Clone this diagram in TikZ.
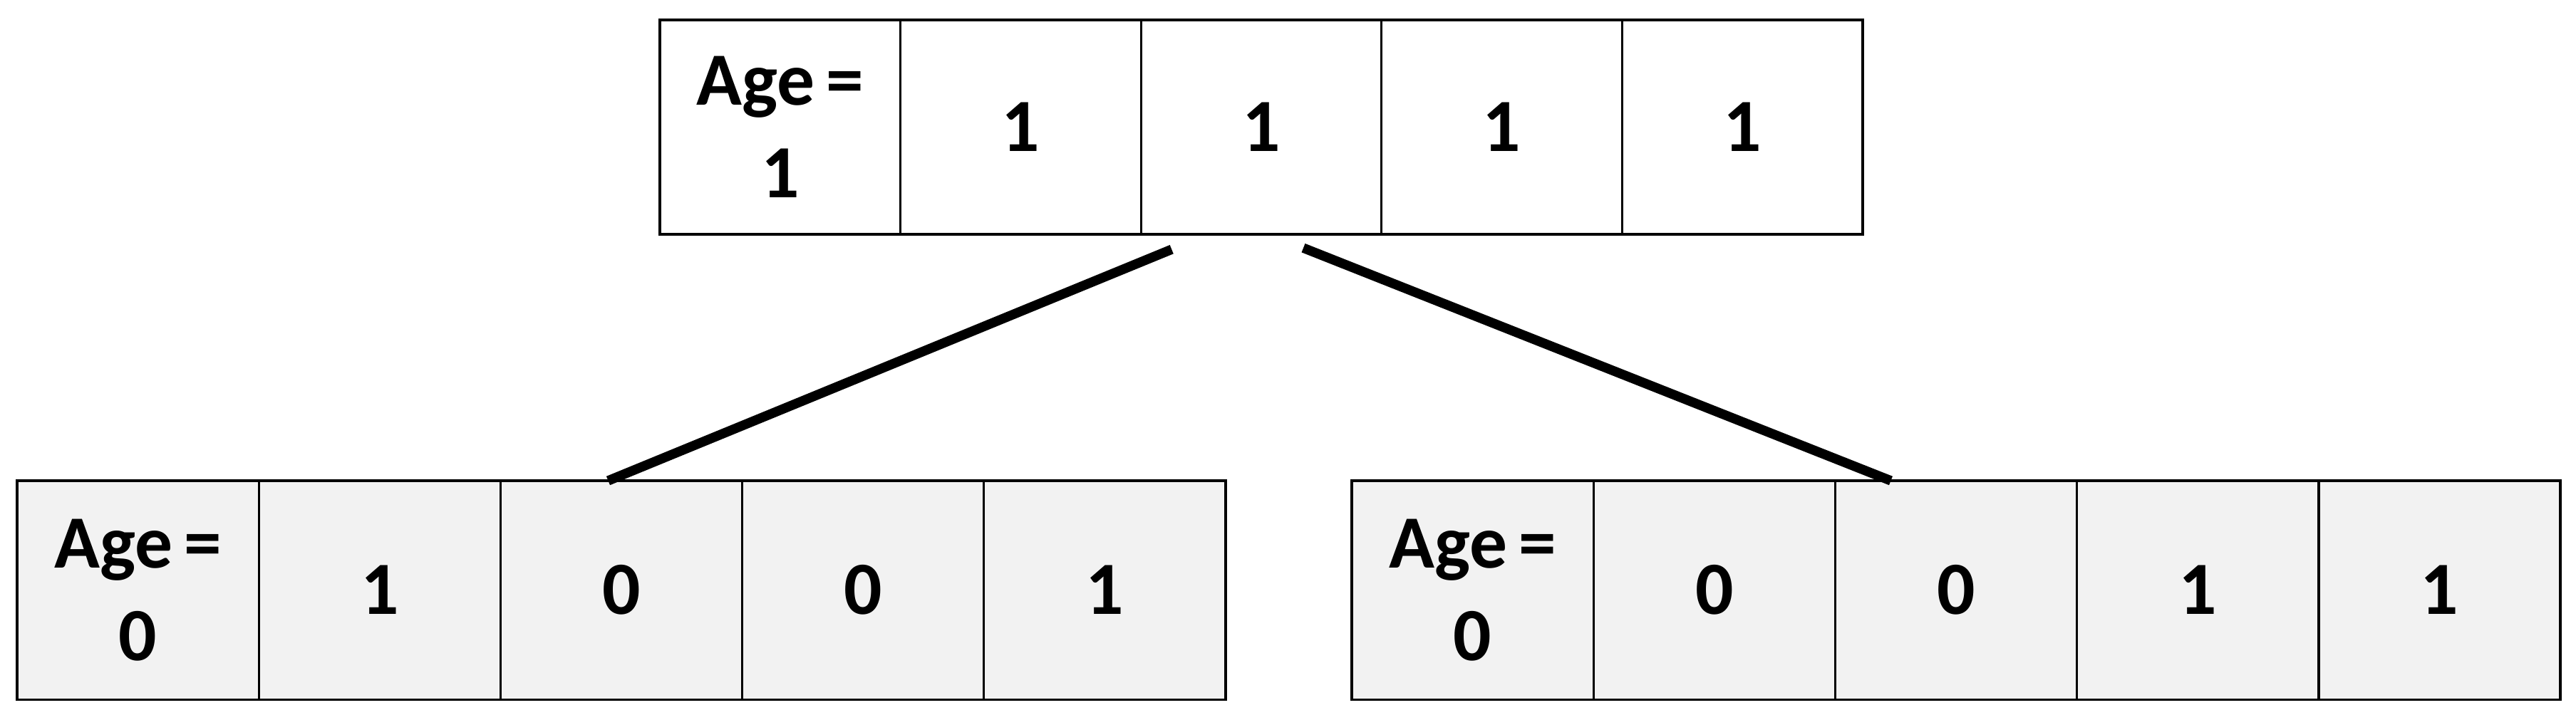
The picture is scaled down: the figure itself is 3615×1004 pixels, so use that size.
\documentclass[tikz,border=0pt]{standalone}
\usepackage{fontspec}
\setmainfont{Carlito}
\definecolor{cellgray}{RGB}{242,242,242}
\tikzset{
  cellbase/.style={draw=black, line width=0.95pt, inner sep=0pt, outer sep=0pt,
    align=center, anchor=north west, text=black,
    font=\fontsize{30}{37}\selectfont\bfseries},
  topcell/.style={cellbase, fill=white, minimum width=3.374cm, minimum height=3.01cm},
  botcell/.style={cellbase, fill=cellgray, minimum width=3.39cm, minimum height=3.07cm},
  conn/.style={draw=black, line width=3.8pt}
}
\begin{document}
\begin{tikzpicture}[x=0.01cm,y=-0.01cm]
\useasboundingbox[fill=white] (0,0) rectangle (3615,1004);
% top row
\node[topcell] (t1) at (926,28) {Age\hspace{0.15em}=\\1};
\node[topcell] (t2) at (t1.north east) {1};
\node[topcell] (t3) at (t2.north east) {1};
\node[topcell] (t4) at (t3.north east) {1};
\node[topcell] (t5) at (t4.north east) {1};
% bottom left row
\node[botcell] (l1) at (24,675) {Age\hspace{0.15em}=\\0};
\node[botcell] (l2) at (l1.north east) {1};
\node[botcell] (l3) at (l2.north east) {0};
\node[botcell] (l4) at (l3.north east) {0};
\node[botcell] (l5) at (l4.north east) {1};
% bottom right row
\node[botcell] (r1) at (1897,675) {Age\hspace{0.15em}=\\0};
\node[botcell] (r2) at (r1.north east) {0};
\node[botcell] (r3) at (r2.north east) {0};
\node[botcell] (r4) at (r3.north east) {1};
\node[botcell] (r5) at (r4.north east) {1};
% connectors
\draw[conn] ([xshift=0.43cm,yshift=-0.21cm]t3.south west) -- ([xshift=1.51cm]l3.north west);
\draw[conn] ([xshift=0.59cm,yshift=-0.19cm]t3.south) -- ([xshift=0.78cm]r3.north west);
\end{tikzpicture}
\end{document}
